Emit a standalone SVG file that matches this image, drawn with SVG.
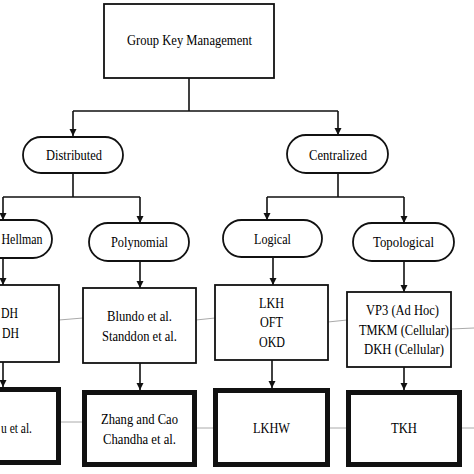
<svg xmlns="http://www.w3.org/2000/svg" width="474" height="474" viewBox="0 0 474 474">
<style>
text{font-family:"Liberation Serif","Times New Roman","DejaVu Serif",serif;font-size:15px;fill:#000;text-anchor:middle}
.box{fill:#fff;stroke:#111;stroke-width:1.8}
.pill{fill:#fff;stroke:#111;stroke-width:1.8}
.thick{fill:#fff;stroke:#111;stroke-width:5}
.ln{fill:none;stroke:#111;stroke-width:1.6}
.gray{fill:none;stroke:#aaa;stroke-width:1}
</style>
<defs>
<marker id="ah" viewBox="0 0 10 10" refX="10" refY="5" markerWidth="7" markerHeight="8" markerUnits="userSpaceOnUse" orient="auto">
<path d="M0,0 L10,5 L0,10 Z" fill="#111"/>
</marker>
</defs>
<rect width="474" height="474" fill="#fff"/>
<g id="connectors">
<path class="ln" d="M189,78 V111 M73,111 H338"/>
<path class="ln" d="M73,111 V136" marker-end="url(#ah)"/>
<path class="ln" d="M338,111 V135" marker-end="url(#ah)"/>
<path class="ln" d="M73,173 V197 M3,197 H140"/>
<path class="ln" d="M3,197 V220" marker-end="url(#ah)"/>
<path class="ln" d="M140,197 V223" marker-end="url(#ah)"/>
<path class="ln" d="M338,173 V197 M267,197 H404"/>
<path class="ln" d="M267,197 V220" marker-end="url(#ah)"/>
<path class="ln" d="M404,197 V223" marker-end="url(#ah)"/>
<path class="ln" d="M3,258 V285" marker-end="url(#ah)"/>
<path class="ln" d="M140,261 V288" marker-end="url(#ah)"/>
<path class="ln" d="M273,257 V285" marker-end="url(#ah)"/>
<path class="ln" d="M404,261 V292" marker-end="url(#ah)"/>
<path class="ln" d="M3,362 V387" marker-end="url(#ah)"/>
<path class="ln" d="M140,363 V390" marker-end="url(#ah)"/>
<path class="ln" d="M272,360 V388" marker-end="url(#ah)"/>
<path class="ln" d="M404,367 V390" marker-end="url(#ah)"/>
<path class="gray" d="M59,320 L83,318 M196,320 L215,318 M328,322 L347,320 M451,329 L474,328"/>
<path class="gray" d="M61,422 H82 M197,428 H213 M330,428 H346 M462,428 H474"/>
</g>
<g id="root">
<rect class="box" x="104" y="4" width="170" height="74"/>
<text x="189.5" y="45" font-size="16" textLength="125" lengthAdjust="spacingAndGlyphs">Group Key Management</text>
</g>
<g id="distributed">
<rect class="pill" x="23" y="137" width="100" height="36" rx="18"/>
<text x="74" y="160" textLength="56" lengthAdjust="spacingAndGlyphs">Distributed</text>
</g>
<g id="centralized">
<rect class="pill" x="287" y="135" width="101" height="38" rx="19"/>
<text x="338" y="160" textLength="58" lengthAdjust="spacingAndGlyphs">Centralized</text>
</g>
<g id="hellman">
<rect class="pill" x="-46" y="220" width="98" height="38" rx="19"/>
<text x="22" y="244" textLength="41" lengthAdjust="spacingAndGlyphs">Hellman</text>
</g>
<g id="polynomial">
<rect class="pill" x="89" y="223" width="100" height="38" rx="19"/>
<text x="139.5" y="247" textLength="57" lengthAdjust="spacingAndGlyphs">Polynomial</text>
</g>
<g id="logical">
<rect class="pill" x="223" y="220" width="99" height="37" rx="18.5"/>
<text x="272.5" y="244" textLength="37" lengthAdjust="spacingAndGlyphs">Logical</text>
</g>
<g id="topological">
<rect class="pill" x="353" y="223" width="101" height="38" rx="19"/>
<text x="403.5" y="247" textLength="61" lengthAdjust="spacingAndGlyphs">Topological</text>
</g>
<g id="dh">
<rect class="box" x="-53" y="285" width="112" height="77"/>
<text x="9.5" y="318" textLength="17" lengthAdjust="spacingAndGlyphs">DH</text>
<text x="10.5" y="338" textLength="17" lengthAdjust="spacingAndGlyphs">DH</text>
</g>
<g id="blundo">
<rect class="box" x="83" y="288" width="113" height="75"/>
<text x="139.5" y="321" textLength="65" lengthAdjust="spacingAndGlyphs">Blundo et al.</text>
<text x="139.5" y="341" textLength="75" lengthAdjust="spacingAndGlyphs">Standdon et al.</text>
</g>
<g id="lkh">
<rect class="box" x="215" y="285" width="113" height="75"/>
<text x="271.5" y="308" textLength="25" lengthAdjust="spacingAndGlyphs">LKH</text>
<text x="271.5" y="327" textLength="23" lengthAdjust="spacingAndGlyphs">OFT</text>
<text x="272" y="347" textLength="26" lengthAdjust="spacingAndGlyphs">OKD</text>
</g>
<g id="vp3">
<rect class="box" x="347" y="292" width="104" height="75"/>
<text x="402.5" y="315" textLength="73" lengthAdjust="spacingAndGlyphs">VP3 (Ad Hoc)</text>
<text x="404" y="335" textLength="90" lengthAdjust="spacingAndGlyphs">TMKM (Cellular)</text>
<text x="404" y="354" textLength="80" lengthAdjust="spacingAndGlyphs">DKH (Cellular)</text>
</g>
<g id="left-bottom">
<rect class="thick" x="-55" y="389.5" width="113.5" height="73"/>
<text x="16.5" y="433" textLength="31" lengthAdjust="spacingAndGlyphs">u et al.</text>
</g>
<g id="zhang">
<rect class="thick" x="84.5" y="392.5" width="110" height="72"/>
<text x="139.5" y="424" textLength="77" lengthAdjust="spacingAndGlyphs">Zhang and Cao</text>
<text x="139.5" y="444" textLength="73" lengthAdjust="spacingAndGlyphs">Chandha et al.</text>
</g>
<g id="lkhw">
<rect class="thick" x="215.5" y="390.5" width="112" height="74"/>
<text x="271.5" y="433" textLength="37" lengthAdjust="spacingAndGlyphs">LKHW</text>
</g>
<g id="tkh">
<rect class="thick" x="348.5" y="392.5" width="111" height="72"/>
<text x="404" y="433" textLength="26" lengthAdjust="spacingAndGlyphs">TKH</text>
</g>
</svg>
